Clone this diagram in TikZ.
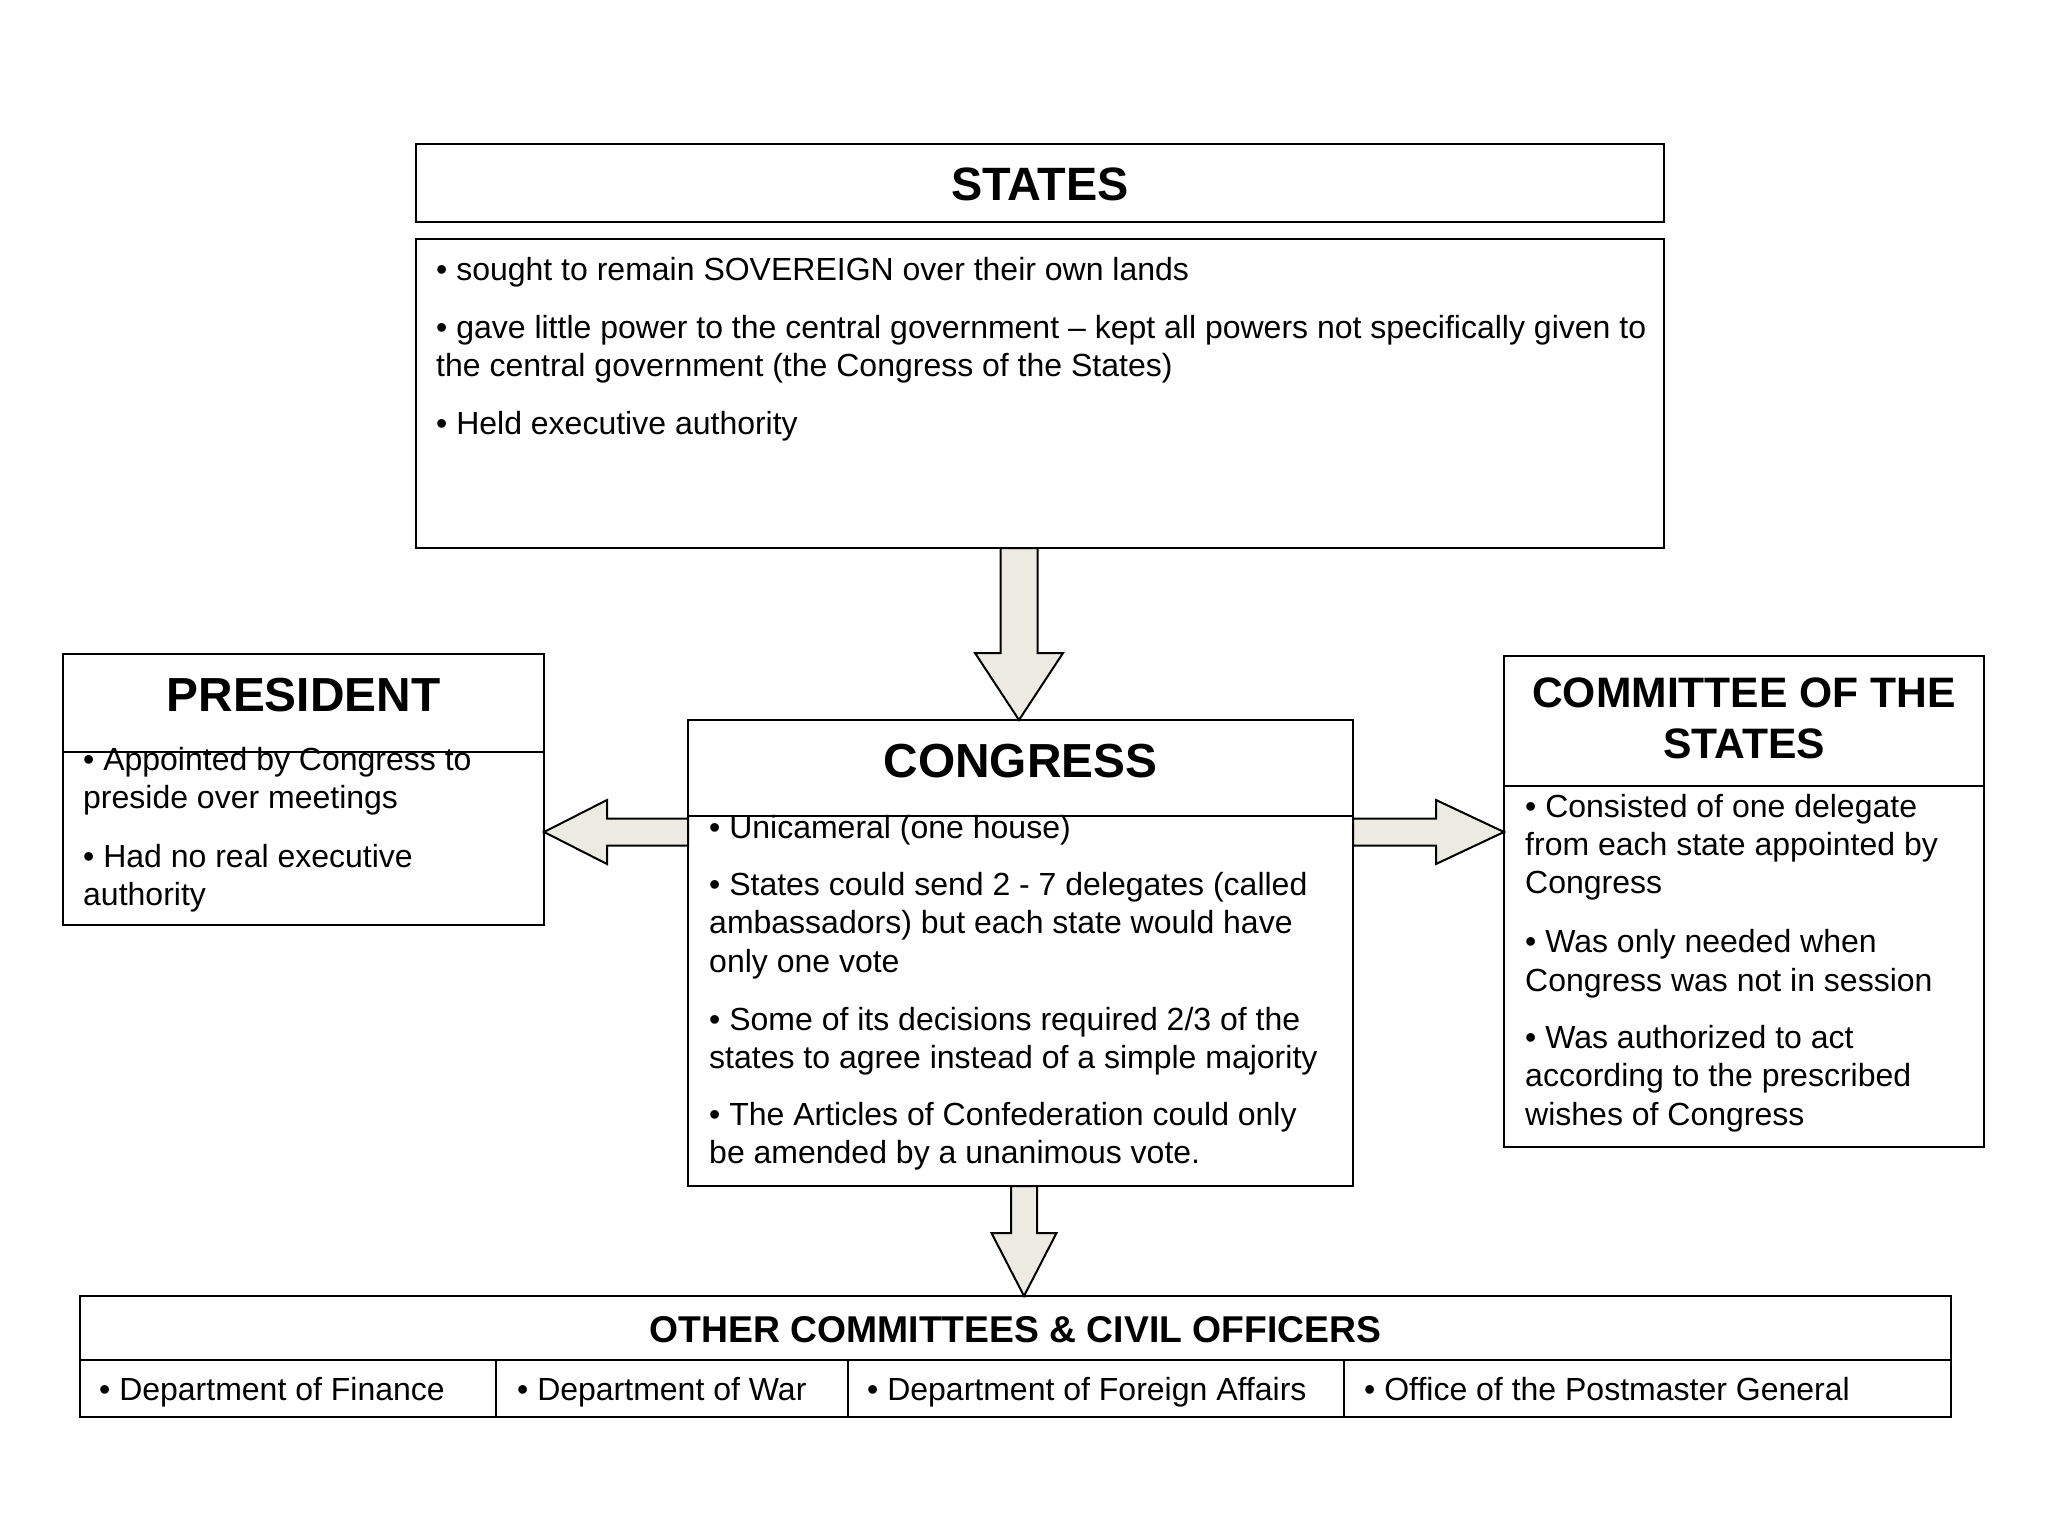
\documentclass[tikz,border=0pt]{standalone}
\usepackage{fontspec}
\setmainfont{Liberation Sans}
\usetikzlibrary{calc}
\definecolor{arrowfill}{RGB}{236,234,225}
\begin{document}
\begin{tikzpicture}[x=1pt,y=-1pt,
  box/.style={draw=black, line width=2pt, rectangle, inner sep=0pt, outer sep=0pt},
  divl/.style={draw=black, line width=2pt},
  blockarrow/.style={draw=black, fill=arrowfill, line width=2pt, line join=miter},
  ttl/.style={anchor=base, inner sep=0pt, font=\bfseries\fontsize{47.8}{57}\selectfont},
  ln/.style={anchor=base west, inner sep=0pt, font=\fontsize{32}{38.5}\selectfont}]
\useasboundingbox[fill=white] (0,0) rectangle (2048,1536);

% boxes
\node[box, minimum width=1248pt, minimum height=78pt] (statestitle) at (1040,183) {};
\node[box, minimum width=1248pt, minimum height=309pt] (statesbody) at (1040,393.5) {};
\node[box, minimum width=481pt, minimum height=271pt] (president) at (303.5,789.5) {};
\node[box, minimum width=665pt, minimum height=466pt] (congress) at (1020.5,953) {};
\node[box, minimum width=480pt, minimum height=491pt] (committee) at (1744,901.5) {};
\node[box, minimum width=1871pt, minimum height=121pt] (bottom) at (1015.5,1356.5) {};

% dividers
\draw[divl] ($(president.north west)+(0,98)$) -- ($(president.north east)+(0,98)$);
\draw[divl] ($(congress.north west)+(0,96)$) -- ($(congress.north east)+(0,96)$);
\draw[divl] ($(committee.north west)+(0,130)$) -- ($(committee.north east)+(0,130)$);
\draw[divl] ($(bottom.north west)+(0,64)$) -- ($(bottom.north east)+(0,64)$);
\coordinate (v1) at (496,1360);
\coordinate (v2) at (848,1360);
\coordinate (v3) at (1344,1360);
\draw[divl] (v1) -- (v1 |- bottom.south);
\draw[divl] (v2) -- (v2 |- bottom.south);
\draw[divl] (v3) -- (v3 |- bottom.south);

% arrows
\coordinate (ax) at (1019,0);
\coordinate (mid) at (0,832);
\coordinate (bx) at (1024,0);
\draw[blockarrow] ($(statesbody.south -| ax)+(-18.5,0)$) -- ($(congress.north -| ax)+(-18.5,-67)$) -- ++(-25.5,0)
  -- (congress.north -| ax) -- ++(44,-67) -- ++(-25.5,0) -- ($(statesbody.south -| ax)+(18.5,0)$) -- cycle;
\draw[blockarrow] ($(congress.west |- mid)+(0,-13.5)$) -- ($(president.east |- mid)+(63,-13.5)$) -- ++(0,-18.5)
  -- (president.east |- mid) -- ++(63,32) -- ++(0,-18.5) -- ($(congress.west |- mid)+(0,13.5)$) -- cycle;
\draw[blockarrow] ($(congress.east |- mid)+(0,-13.5)$) -- ($(committee.west |- mid)+(-68,-13.5)$) -- ++(0,-18.5)
  -- (committee.west |- mid) -- ++(-68,32) -- ++(0,-18.5) -- ($(congress.east |- mid)+(0,13.5)$) -- cycle;
\draw[blockarrow] ($(congress.south -| bx)+(-13,0)$) -- ($(bottom.north -| bx)+(-13,-63)$) -- ++(-19.5,0)
  -- (bottom.north -| bx) -- ++(32.5,-63) -- ++(-19.5,0) -- ($(congress.south -| bx)+(13,0)$) -- cycle;

% titles
\node[ttl, font=\bfseries\fontsize{46.8}{56}\selectfont] (tstates) at (1040,200) {STATES};
\node[ttl] (tpres) at (303.5,711) {PRESIDENT};
\node[ttl] (tcong) at (1020.5,777) {CONGRESS};
\node[ttl, font=\bfseries\fontsize{42.6}{51}\selectfont] (tcom1) at (1744,707) {COMMITTEE OF THE};
\node[ttl, font=\bfseries\fontsize{42.6}{51}\selectfont] (tcom2) at (1744,758) {STATES};
\node[ttl, font=\bfseries\fontsize{37.3}{44}\selectfont] (tbot) at (1015.5,1342) {OTHER COMMITTEES \& CIVIL OFFICERS};

% states text
\node[ln] (s1) at (436,280) {• sought to remain SOVEREIGN over their own lands};
\node[ln] (s2) at (436,338) {• gave little power to the central government – kept all powers not specifically given to};
\node[ln] (s3) at (436,376) {the central government (the Congress of the States)};
\node[ln] (s4) at (436,434) {• Held executive authority};

% president text
\node[ln] (p1) at (83,770) {• Appointed by Congress to};
\node[ln] (p2) at (83,808) {preside over meetings};
\node[ln] (p3) at (83,867) {• Had no real executive};
\node[ln] (p4) at (83,905) {authority};

% congress text
\node[ln] (c1) at (709,838) {• Unicameral (one house)};
\node[ln] (c2) at (709,895) {• States could send 2 - 7 delegates (called};
\node[ln] (c3) at (709,933.5) {ambassadors) but each state would have};
\node[ln] (c4) at (709,972) {only one vote};
\node[ln] (c5) at (709,1030) {• Some of its decisions required 2/3 of the};
\node[ln] (c6) at (709,1068.5) {states to agree instead of a simple majority};
\node[ln] (c7) at (709,1125) {• The Articles of Confederation could only};
\node[ln] (c8) at (709,1163.5) {be amended by a unanimous vote.};

% committee text
\node[ln] (m1) at (1525,817) {• Consisted of one delegate};
\node[ln] (m2) at (1525,855) {from each state appointed by};
\node[ln] (m3) at (1525,893) {Congress};
\node[ln] (m4) at (1525,952) {• Was only needed when};
\node[ln] (m5) at (1525,991) {Congress was not in session};
\node[ln] (m6) at (1525,1048) {• Was authorized to act};
\node[ln] (m7) at (1525,1086.5) {according to the prescribed};
\node[ln] (m8) at (1525,1125) {wishes of Congress};

% bottom row
\node[ln] (d1) at (99,1400) {• Department of Finance};
\node[ln] (d2) at (517,1400) {• Department of War};
\node[ln] (d3) at (867,1400) {• Department of Foreign Affairs};
\node[ln] (d4) at (1364,1400) {• Office of the Postmaster General};
\end{tikzpicture}
\end{document}
